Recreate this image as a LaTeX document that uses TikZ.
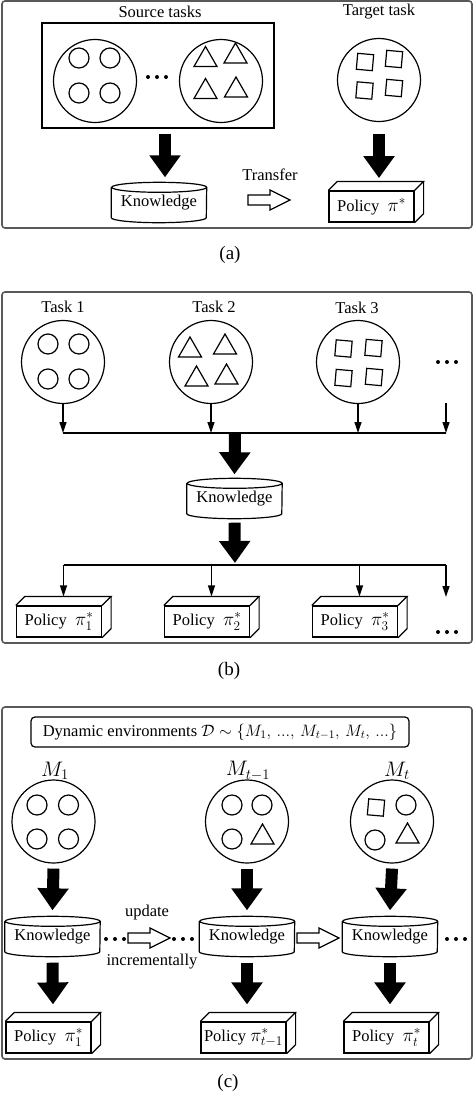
\RequirePackage{fix-cm}
\documentclass[tikz,border=0pt]{standalone}
\usepackage{fontspec}
\setmainfont{Liberation Serif}
\usetikzlibrary{arrows.meta,calc}
\tikzset{
  frame/.style={draw=black!65, line width=1.6pt, rounded corners=3pt},
  ln/.style={line width=1.2pt},
  shp/.style={line width=1.2pt},
  every node/.style={font=\fontsize{16.5}{19}\selectfont},
  bigc/.style={circle, draw, line width=1.2pt, minimum size=83pt, inner sep=0pt},
  knw/.style={minimum width=95pt, minimum height=40pt, inner sep=0pt},
  pol/.style={draw, line width=1.2pt, minimum width=85pt, minimum height=31pt, inner sep=0pt},
  bigarrow/.style={line width=12pt, -{Triangle[length=22pt,width=30pt]}},
  thinarrow/.style={line width=1.2pt, -{Triangle[length=11pt,width=7pt]}},
  mlabel/.style={font=\fontsize{21}{24}\selectfont},
  plabel/.style={font=\fontsize{19}{22}\selectfont},
}
\newcommand{\mytri}[2]{\draw[shp] (#1-11.5,#2+10) -- (#1+11.5,#2+10) -- (#1,#2-10) -- cycle;}
\newcommand{\mysq}[2]{\draw[shp, rotate around={-5:(#1,#2)}] (#1-8,#2-8) rectangle (#1+8,#2+8);}
\newcommand{\mycirc}[2]{\draw[shp] (#1,#2) circle[radius=10pt];}
\newcommand{\mydots}[2]{\foreach \dx in {-9,0,9}{\fill (#1+\dx,#2) circle[radius=2pt];}}
\newcommand{\harr}[3]{%
  \coordinate (#1) at (#2,#3);
  \draw[ln, line join=miter] ($(#1)+(-21,-5)$) -- ($(#1)+(1,-5)$) -- ($(#1)+(1,-10)$) -- ($(#1)+(21,0)$)
    -- ($(#1)+(1,10)$) -- ($(#1)+(1,5)$) -- ($(#1)+(-21,5)$) -- cycle;}
\newcommand{\knbox}[3]{%
  \node[knw] (#1) at (#2,#3) {\raisebox{-3pt}{Knowledge}};
  \draw[ln] ([yshift=-5pt]#1.north west) -- ([yshift=5pt]#1.south west)
    arc[start angle=180,end angle=360,x radius=47.5pt,y radius=5pt]
    -- ([yshift=-5pt]#1.north east)
    arc[start angle=0,end angle=180,x radius=47.5pt,y radius=5pt]
    arc[start angle=180,end angle=360,x radius=47.5pt,y radius=5pt];}
\newcommand{\polbox}[4]{%
  \node[pol] (#1) at (#2,#3) {#4};
  \draw[ln] (#1.north west) -- ++(9,-9) -- ($(#1.north east)+(9,-9)$) -- (#1.north east);
  \draw[ln] ($(#1.north east)+(9,-9)$) -- ($(#1.south east)+(9,-9)$) -- (#1.south east);}
\newcommand{\pimath}[1]{{\fontsize{19}{22}\selectfont$#1$}}
\begin{document}
\begin{tikzpicture}[x=1pt,y=-1pt]
\useasboundingbox (0,0) rectangle (474,1093);
% ---------------- (a)
\draw[frame] (2,1) rectangle (472,228);
\node (lsrc) at (160,12) {Source tasks};
\node (ltgt) at (379,12) {Target task};
\node[draw, line width=1.2pt, minimum width=232pt, minimum height=105pt, inner sep=0pt] (src) at (158,75.5) {};
\node[bigc] (a1) at (95,81) {};
\node[bigc] (a2) at (221,81) {};
\node[bigc] (ta) at (379,80) {};
\mycirc{79}{58}\mycirc{110}{58}\mycirc{79}{93}\mycirc{110}{93}
\mytri{205.5}{56.5}\mytri{235.5}{53}\mytri{205.5}{88.5}\mytri{236}{87}
\mysq{365}{62}\mysq{394}{59}\mysq{364.5}{90.5}\mysq{394}{88}
\mydots{157}{77}
\knbox{ka}{159}{202.5}
\polbox{pa}{371.5}{206.5}{Policy\ \ \pimath{\pi^*}}
\draw[bigarrow] ([xshift=7pt,yshift=-5pt]src.south) -- ([xshift=6pt,yshift=5pt]ka.north);
\draw[bigarrow] ([yshift=-12pt]ta.south) -- ([yshift=-56pt]ta.south);
\node (ltr) at (270,175) {Transfer};
\harr{ha}{269}{200}
\node[plabel] (la) at (230,255) {(a)};
% ---------------- (b)
\draw[frame] (2,292) rectangle (472,643);
\node (t1) at (63,307) {Task 1};
\node (t2) at (214,307) {Task 2};
\node (t3) at (357,308) {Task 3};
\node[bigc] (b1) at (63,362) {};
\node[bigc] (b2) at (211,362) {};
\node[bigc] (b3) at (358,362) {};
\mycirc{48}{344}\mycirc{79}{344}\mycirc{48}{379}\mycirc{79}{379}
\mytri{190}{347}\mytri{225}{344}\mytri{196.5}{376}\mytri{226.5}{374}
\mysq{343.5}{348.5}\mysq{373.5}{348}\mysq{343.5}{378}\mysq{374}{377}
\mydots{447}{362}
\coordinate (b4top) at (446,403);
\coordinate (bus1) at (235,433);
\draw[ln] (b1.south |- bus1) -- (b4top |- bus1);
\foreach \n in {b1,b2,b3}{\draw[thinarrow] (\n.south) -- (\n.south |- bus1);}
\draw[thinarrow] (b4top) -- (b4top |- bus1);
\knbox{kb}{234.5}{498.5}
\draw[bigarrow] (bus1) -- ([yshift=4pt]kb.north);
\coordinate (bus2) at (235,565);
\draw[bigarrow, shorten >=2pt] ([yshift=-4pt]kb.south) -- (bus2);
\polbox{pb1}{59}{621.5}{Policy\ \ \pimath{\pi_1^*}}
\polbox{pb2}{207}{621.5}{Policy\ \ \pimath{\pi_2^*}}
\polbox{pb3}{355}{621.5}{Policy\ \ \pimath{\pi_3^*}}
\coordinate (pb1t) at ($(pb1.north)+(4.5,-9)$);
\coordinate (pb2t) at ($(pb2.north)+(4.5,-9)$);
\coordinate (pb3t) at ($(pb3.north)+(4.5,-9)$);
\coordinate (pb4t) at (446,597);
\draw[ln] (pb1t |- bus2) -- (pb4t |- bus2);
\foreach \n in {pb1t,pb2t,pb3t,pb4t}{\draw[thinarrow] (\n |- bus2) -- (\n);}
\mydots{447}{632}
\node[plabel] (lb) at (229,671) {(b)};
% ---------------- (c)
\draw[frame] (2,707) rectangle (472,1059);
\node[draw, line width=1.2pt, rounded corners=4pt, minimum width=378pt, minimum height=30pt, inner sep=0pt] (dyn) at (220,732)
  {Dynamic environments $\mathcal{D}\sim\{M_1,\,...,\,M_{t-1},\,M_t,\,...\}$};
\node[mlabel] (m1) at (55,771) {$M_1$};
\node[mlabel] (m2) at (248,771) {$M_{t-1}$};
\node[mlabel] (m3) at (397,771) {$M_t$};
\node[bigc] (c1) at (53.5,821.5) {};
\node[bigc] (c2) at (247,821.5) {};
\node[bigc] (c3) at (392,821.5) {};
\mycirc{37}{805}\mycirc{68.5}{805}\mycirc{37}{839}\mycirc{68.5}{839}
\mycirc{232}{805}\mycirc{262}{805}\mycirc{232}{839}\mytri{262.5}{834}
\mysq{376}{807.5}\mycirc{406}{805}\mycirc{375}{840}\mytri{407.5}{833}
\knbox{kc1}{52.5}{936.5}
\knbox{kc2}{247}{936.5}
\knbox{kc3}{390}{936.5}
\draw[bigarrow] ([yshift=-5pt]c1.south) -- ([yshift=6pt]kc1.north);
\draw[bigarrow] ([yshift=-5pt]c2.south) -- ([yshift=6pt]kc2.north);
\draw[bigarrow] ([yshift=-5pt]c3.south) -- ([yshift=6pt]kc3.north);
\mydots{115}{939}
\harr{hc1}{149}{938}
\mydots{183}{939}
\node (lup) at (147,913) {update};
\node (linc) at (152,962) {incrementally};
\harr{hc2}{318}{938}
\mydots{456}{939}
\polbox{pc1}{48.5}{1037.5}{Policy\ \ \pimath{\pi_1^*}}
\polbox{pc2}{243.5}{1037.5}{Policy\ \pimath{\pi_{t-1}^*}}
\polbox{pc3}{386.5}{1037.5}{Policy\ \ \pimath{\pi_t^*}}
\draw[bigarrow] ([yshift=-6pt]kc1.south) -- ([xshift=4.5pt,yshift=17pt]pc1.north);
\draw[bigarrow] ([yshift=-6pt]kc2.south) -- ([yshift=17pt]pc2.north -| kc2.south);
\draw[bigarrow] ([yshift=-6pt]kc3.south) -- ([yshift=17pt]pc3.north -| kc3.south);
\node[plabel] (lc) at (228,1083) {(c)};
\end{tikzpicture}
\end{document}
